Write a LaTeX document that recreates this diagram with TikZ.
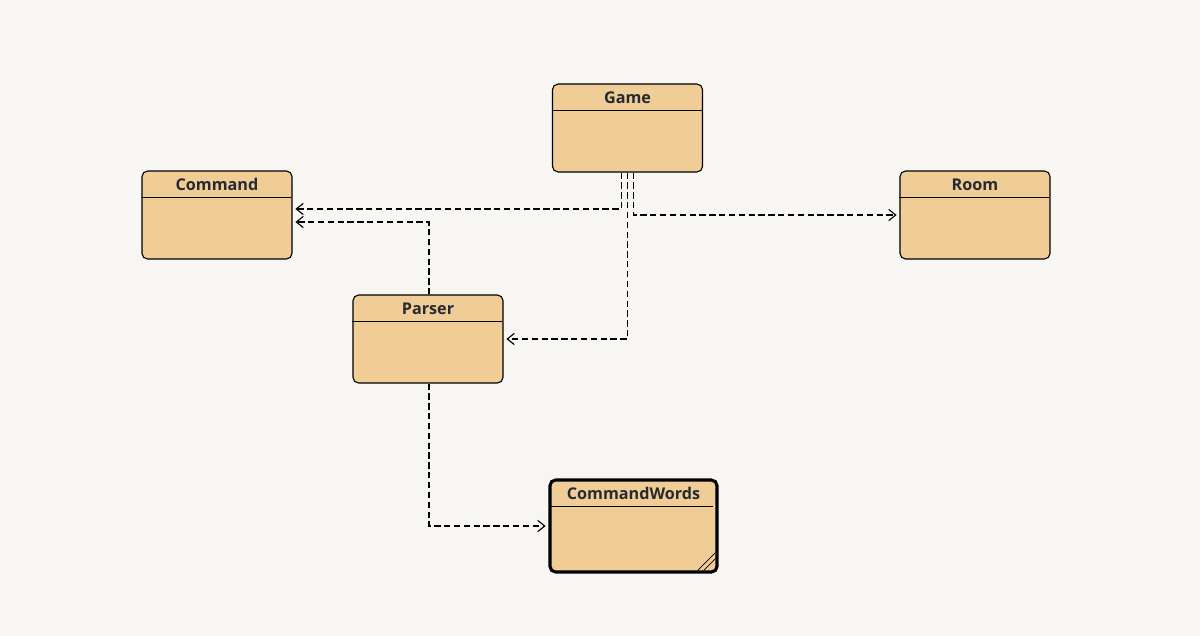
\documentclass[tikz,border=0pt]{standalone}
\usepackage{fontspec}
\setmainfont{Open Sans}
\usetikzlibrary{arrows.meta,calc}
\definecolor{paper}{HTML}{F7F6F2}
\definecolor{classfill}{HTML}{F0CC96}
\definecolor{ink}{HTML}{262A30}
\begin{document}
\begin{tikzpicture}[x=0.025cm, y=-0.025cm, line width=0.8pt,
  classbox/.style={draw=black, fill=classfill, rounded corners=4pt,
    minimum width=3.75cm, minimum height=2.2cm, inner sep=0pt},
  classtitle/.style={font=\bfseries\fontsize{11.5}{13}\selectfont, text=ink},
  dep/.style={dash pattern=on 4.5pt off 2.5pt, -{Straight Barb[length=5pt,width=8pt]}, shorten >=2pt}]
  \fill[paper] (0,0) rectangle (1200,636);
  \useasboundingbox (0,0) rectangle (1200,636);
  % classes
  \node[classbox] (game) at (627.5,128) {};
  \node[classbox] (command) at (217,215) {};
  \node[classbox] (room) at (975,215) {};
  \node[classbox] (parser) at (428,339) {};
  \node[classbox, line width=2.2pt, minimum width=4.175cm, minimum height=2.3cm] (cwords) at (633.5,526) {};
  \draw (game.north west) ++(0,27) -- ++(151,0);
  \draw (command.north west) ++(0,27) -- ++(150,0);
  \draw (room.north west) ++(0,27) -- ++(150,0);
  \draw (parser.north west) ++(0,27) -- ++(150,0);
  \draw (cwords.north west) ++(2,28) -- ++(163,0);
  \node[classtitle] (gameT) at ($(game.north)+(0,14)$) {Game};
  \node[classtitle] (commandT) at ($(command.north)+(0,14)$) {Command};
  \node[classtitle] (roomT) at ($(room.north)+(0,14)$) {Room};
  \node[classtitle] (parserT) at ($(parser.north)+(0,14)$) {Parser};
  \node[classtitle] (cwordsT) at ($(cwords.north)+(0,15)$) {CommandWords};
  % utility corner
  \draw[line width=0.6pt] ($(cwords.south east)+(-21,-3)$) -- ($(cwords.south east)+(-3,-21)$);
  \draw[line width=0.6pt] ($(cwords.south east)+(-15,-3)$) -- ($(cwords.south east)+(-3,-15)$);
  % dependencies
  \draw[dep] ($(game.south)+(-6,0)$) |- ($(command.east)+(0,-6)$);
  \draw[dep] (game.south) |- (parser.east);
  \draw[dep] ($(game.south)+(6,0)$) |- (room.west);
  \draw[dep] ($(parser.north)+(1,0)$) |- ($(command.east)+(0,7)$);
  \draw[dep] ($(parser.south)+(1,0)$) |- (cwords.west);
\end{tikzpicture}
\end{document}
